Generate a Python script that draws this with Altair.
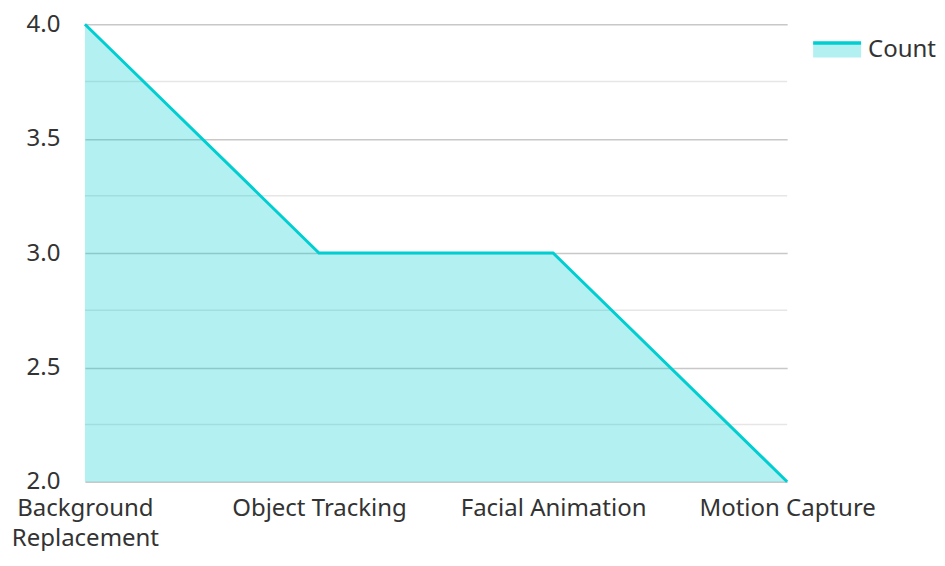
import altair as alt
import pandas as pd

categories = ["Background Replacement", "Object Tracking", "Facial Animation", "Motion Capture"]
counts = [4, 3, 3, 2]
series_name = "Count"
major_ticks = [2.0, 2.5, 3.0, 3.5, 4.0]
minor_ticks = [2.25, 2.75, 3.25, 3.75]

TEAL = "#00ced1"
FONT = "Noto Sans"
FS = 24
TXT = "#333333"

df = pd.DataFrame({"category": categories, "count": counts, "series": [series_name] * len(categories)})
minor_df = pd.DataFrame({"v": minor_ticks})

x_enc = alt.X(
    "category:N",
    sort=categories,
    scale=alt.Scale(type="point", padding=0),
    axis=alt.Axis(
        title=None, labelAngle=0, ticks=False, domain=False, grid=False,
        labelFontSize=FS, labelColor=TXT, labelFont=FONT, labelPadding=15,
        labelLineHeight=30, labelLimit=400,
        labelExpr="length(datum.label) > 20 ? split(datum.label, ' ') : datum.label",
    ),
)
y_scale = alt.Scale(domain=[2, 4], nice=False, zero=False)
y_axis = alt.Axis(
    title=None, values=major_ticks, format=".1f", ticks=False, domain=False,
    grid=True, gridColor="#c8c8c8", gridWidth=1.5,
    labelFontSize=FS, labelColor=TXT, labelFont=FONT, labelPadding=25,
)

minor = alt.Chart(minor_df).mark_rule(color="#e6e6e6", strokeWidth=1.5).encode(
    y=alt.Y("v:Q", scale=y_scale, axis=y_axis)
)

area = alt.Chart(df).mark_area(color=TEAL, opacity=0.3).encode(
    x=x_enc,
    y=alt.Y("count:Q", scale=y_scale),
    y2=alt.datum(2),
)

line = alt.Chart(df).mark_line(strokeWidth=3).encode(
    x=alt.X("category:N", sort=categories),
    y=alt.Y("count:Q", scale=y_scale),
    stroke=alt.Stroke(
        "series:N",
        scale=alt.Scale(range=[TEAL]),
        legend=alt.Legend(
            title=None, orient="right", offset=18, padding=0,
            symbolType="M-1,-0.3L1,-0.3L1,0.3L-1,0.3Z", symbolSize=2304,
            symbolFillColor="#b2f0f1", symbolStrokeColor=TEAL, symbolStrokeWidth=3.5,
            symbolDash=[48, 200], symbolOpacity=1,
            labelFontSize=FS, labelColor=TXT, labelFont=FONT, labelOffset=5,
        ),
    ),
)

chart = alt.layer(minor, area, line).properties(
    width=703, height=458,
    padding={"left": 3, "top": 4, "right": 0, "bottom": 0},
).configure(font=FONT).configure_view(stroke=None)

chart.save("out.html", embed_options={"renderer": "svg", "actions": False})
